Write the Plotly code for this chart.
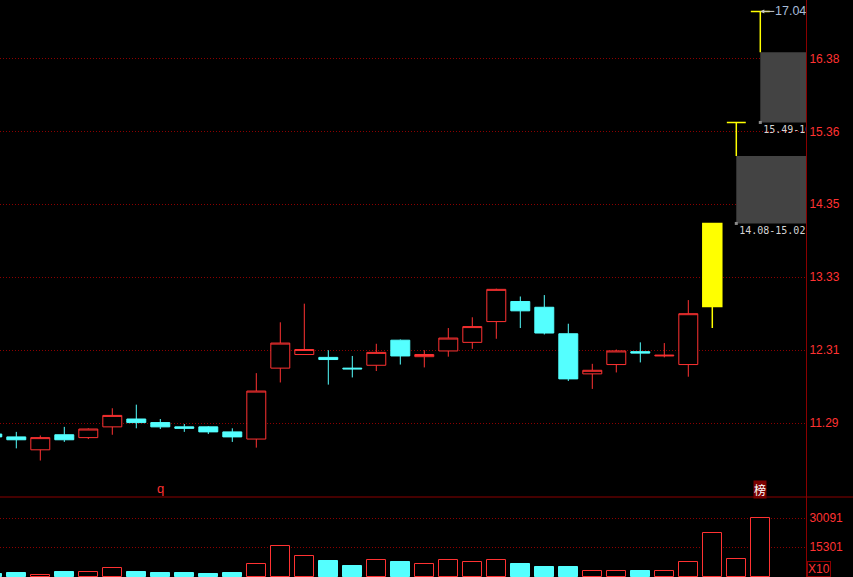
import plotly.graph_objects as go

# ---- data ----
idx = list(range(-1, 32))
open_ = [11.14, 11.10, 10.92, 11.13, 11.09, 11.24, 11.35, 11.30, 11.24, 11.24, 11.17,
         11.07, 12.06, 12.25, 12.21, 12.06, 12.10, 12.45, 12.22, 12.30, 12.42, 12.71,
         12.99, 12.91, 12.54, 11.98, 12.11, 12.29, 12.23, 12.11, 12.92, 15.49, 17.04]
high = [11.16, 11.17, 11.12, 11.24, 11.22, 11.50, 11.55, 11.35, 11.28, 11.25, 11.22,
        11.99, 12.70, 12.96, 12.31, 12.23, 12.40, 12.46, 12.31, 12.62, 12.77, 13.17,
        13.06, 13.08, 12.68, 12.12, 12.32, 12.42, 12.41, 13.01, 14.08, 15.49, 17.04]
low = [11.08, 10.94, 10.77, 11.03, 11.07, 11.13, 11.22, 11.21, 11.17, 11.14, 11.03,
       10.95, 11.86, 12.25, 11.83, 11.93, 12.02, 12.11, 12.07, 12.22, 12.33, 12.47,
       12.62, 12.53, 11.88, 11.77, 12.00, 12.14, 12.21, 11.94, 12.62, 15.02, 16.47]
close = [11.10, 11.06, 11.09, 11.06, 11.21, 11.40, 11.30, 11.24, 11.22, 11.17, 11.10,
         11.74, 12.41, 12.32, 12.18, 12.05, 12.28, 12.23, 12.25, 12.48, 12.64, 13.16,
         12.86, 12.55, 11.91, 12.03, 12.30, 12.27, 12.24, 12.82, 14.08, 15.49, 17.04]
volume = [1500, 2000, 1400, 2550, 2550, 4600, 2550, 2000, 2000, 1500, 2000,
          6600, 15800, 10700, 8200, 5600, 8700, 7650, 6600, 8700, 7650, 8700,
          6600, 5100, 5100, 3060, 3060, 3060, 3060, 7650, 22400, 9200, 30091]
limit_up = [29, 30, 31]

price_ticks = [11.29, 12.31, 13.33, 14.35, 15.36, 16.38]
vol_ticks = [15301, 30091]
peak_label = "17.04"

UP = '#ff3232'
DOWN = '#54ffff'
LIM = '#ffff00'
GRID = '#8c0000'
AXIS = '#8b0000'

main = [i for i, k in enumerate(idx) if k not in limit_up]
lim = [i for i, k in enumerate(idx) if k in limit_up]


def pick(arr, sel):
    return [arr[i] for i in sel]


fig = go.Figure()

fig.add_trace(go.Candlestick(
    x=pick(idx, main), open=pick(open_, main), high=pick(high, main),
    low=pick(low, main), close=pick(close, main),
    increasing=dict(line=dict(color=UP, width=1), fillcolor='#000000'),
    decreasing=dict(line=dict(color=DOWN, width=1), fillcolor=DOWN),
    whiskerwidth=0, xaxis='x', yaxis='y', hoverinfo='skip'))

fig.add_trace(go.Candlestick(
    x=pick(idx, lim), open=pick(open_, lim), high=pick(high, lim),
    low=pick(low, lim), close=pick(close, lim),
    increasing=dict(line=dict(color=LIM, width=1.5), fillcolor=LIM),
    decreasing=dict(line=dict(color=LIM, width=1.5), fillcolor=LIM),
    whiskerwidth=0, xaxis='x', yaxis='y', hoverinfo='skip'))

# volume bars
up_sel = [i for i in range(len(idx)) if close[i] >= open_[i]]
dn_sel = [i for i in range(len(idx)) if close[i] < open_[i]]
fig.add_trace(go.Bar(x=pick(idx, up_sel), y=pick(volume, up_sel), width=0.79,
                     marker=dict(color='#000000', line=dict(color=UP, width=1)),
                     xaxis='x2', yaxis='y2', hoverinfo='skip'))
fig.add_trace(go.Bar(x=pick(idx, dn_sel), y=pick(volume, dn_sel), width=0.79,
                     marker=dict(color=DOWN, line=dict(color=DOWN, width=1)),
                     xaxis='x2', yaxis='y2', hoverinfo='skip'))

# gaps
x_max = 32.904
shapes = []
gx, gy, gt = [], [], []
for i in range(1, len(idx)):
    if low[i] > high[i - 1]:
        shapes.append(dict(type='rect', xref='x', yref='y', x0=idx[i], x1=x_max,
                           y0=high[i - 1], y1=low[i], fillcolor='#434343',
                           line=dict(width=0), layer='between'))
        gx.append(idx[i])
        gy.append(high[i - 1])
        gt.append(f"{high[i - 1]:.2f}-{low[i]:.2f}")

fig.add_trace(go.Scatter(x=gx, y=gy, text=gt, mode='markers+text',
                         textposition='bottom right', cliponaxis=True,
                         marker=dict(symbol='square', size=3, color='#8a8a8a'),
                         textfont=dict(family='DejaVu Sans Mono', size=10, color='#d4d4d4'),
                         xaxis='x', yaxis='y', hoverinfo='skip'))

split = 80 / 577

shapes.append(dict(type='line', xref='paper', yref='paper', x0=0, x1=853 / 806,
                   y0=split, y1=split, line=dict(color=AXIS, width=1)))

annotations = [
    dict(x=idx[-1], y=high[-1], xref='x', yref='y', text=peak_label,
         showarrow=True, ax=14, ay=0, xanchor='left', arrowhead=2, arrowsize=0.8,
         arrowwidth=1, arrowcolor='#c8c8c8', standoff=0, borderpad=0,
         font=dict(family='Liberation Sans', size=12.5, color='#a8bcd8')),
    dict(x=6, y=(577 - 488) / 577, xref='x', yref='paper', text='q', showarrow=False,
         yanchor='middle',
         font=dict(family='Liberation Sans', size=13, color=UP)),
    dict(x=31, y=(577 - 489) / 577, xref='x', yref='paper', text='榜', showarrow=False,
         yanchor='middle', bgcolor='#7a0000', borderpad=0,
         font=dict(family='Noto Sans CJK SC', size=12, color='#ffffff')),
    dict(x=806.7 / 806, y=0, xref='paper', yref='paper', text='X10', showarrow=False,
         xanchor='left', yanchor='bottom', bordercolor=AXIS, borderwidth=1, borderpad=0,
         font=dict(family='Liberation Sans', size=12, color=UP)),
]

tickfont = dict(family='Liberation Sans', size=12, color=UP)

fig.update_layout(
    width=853, height=577, margin=dict(l=0, r=47, t=0, b=0),
    paper_bgcolor='#000000', plot_bgcolor='#000000',
    showlegend=False, hovermode=False, boxgap=0.21, boxgroupgap=0, bargap=0,
    xaxis=dict(range=[-0.679, x_max], visible=False, anchor='y',
               rangeslider=dict(visible=False)),
    xaxis2=dict(range=[-0.679, x_max], visible=False, anchor='y2', matches='x'),
    yaxis=dict(domain=[split, 1], range=[10.261, 17.1995], side='right', anchor='x',
               tickvals=price_ticks, ticktext=[f"{v:.2f}" for v in price_ticks],
               showgrid=True, gridcolor=GRID, griddash='1px,2px', gridwidth=1,
               showline=True, linecolor=AXIS, linewidth=1, ticks='',
               zeroline=False, tickfont=tickfont),
    yaxis2=dict(domain=[0, split], range=[150, 40950], side='right', anchor='x2',
                tickvals=vol_ticks, ticktext=[str(v) for v in vol_ticks],
                showgrid=True, gridcolor=GRID, griddash='1px,2px', gridwidth=1,
                showline=True, linecolor=AXIS, linewidth=1, ticks='',
                zeroline=False, tickfont=tickfont),
    shapes=shapes, annotations=annotations,
)

fig.write_html("out.html", config={'displayModeBar': False},
               post_script="document.body.style.margin='0px';document.body.style.background='#000';")
